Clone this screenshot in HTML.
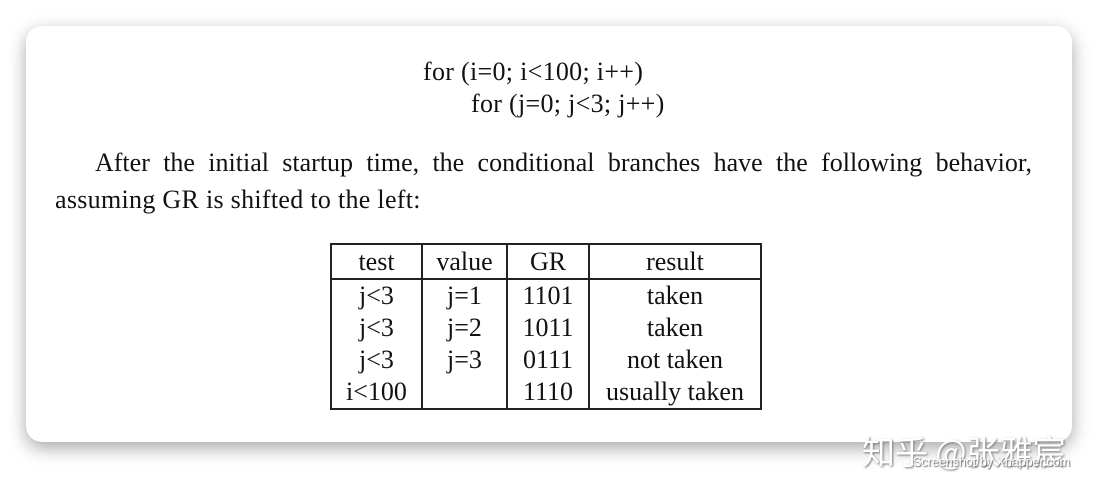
<!DOCTYPE html>
<html><head><meta charset="utf-8"><style>
body{margin:0;width:1098px;height:495px;background:#fff;position:relative;overflow:hidden;font-family:"Liberation Serif",serif;color:#111}
.card{position:absolute;left:26px;top:26px;width:1046px;height:416px;border-radius:16px;background:#fff;box-shadow:0 6px 18px rgba(0,0,0,.35)}
.t{position:absolute;font-size:26px;letter-spacing:0.3px;white-space:nowrap;line-height:1}
table{position:absolute;left:330px;top:243px;border-collapse:collapse;font-size:26px;border:2px solid #222}
td{padding:0;text-align:center;line-height:32px;border-left:2px solid #222;white-space:nowrap}
tr.h td{border-bottom:2px solid #222;height:33px}
.wm{position:absolute;left:862px;top:426px;font-family:"Noto Sans CJK SC",sans-serif;font-size:33px;color:#fff;text-shadow:1px 1px 2px #777;white-space:nowrap}
.wm2{position:absolute;left:913px;top:455px;font-family:"Liberation Sans",sans-serif;font-size:12.5px;color:#fff;text-shadow:1px 1px 1px #666;white-space:nowrap}
</style></head><body>
<div class="card"></div>
<div class="t" style="left:423px;top:59px">for (i=0; i&lt;100; i++)</div>
<div class="t" style="left:471px;top:91px">for (j=0; j&lt;3; j++)</div>
<div class="t" style="left:95px;top:150px;width:937px;text-align:justify;text-align-last:justify;letter-spacing:0">After the initial startup time, the conditional branches have the following behavior,</div>
<div class="t" style="left:55px;top:187px">assuming GR is shifted to the left:</div>
<table>
<tr class="h"><td style="width:89px;border-left:none">test</td><td style="width:83px">value</td><td style="width:80px">GR</td><td style="width:170px">result</td></tr>
<tr><td style="border-left:none">j&lt;3</td><td>j=1</td><td>1101</td><td>taken</td></tr>
<tr><td style="border-left:none">j&lt;3</td><td>j=2</td><td>1011</td><td>taken</td></tr>
<tr><td style="border-left:none">j&lt;3</td><td>j=3</td><td>0111</td><td>not taken</td></tr>
<tr><td style="border-left:none">i&lt;100</td><td></td><td>1110</td><td>usually taken</td></tr>
</table>
<div class="wm">知乎 @张雅宸</div>
<div class="wm2">Screenshot by Xnapper.com</div>
</body></html>
